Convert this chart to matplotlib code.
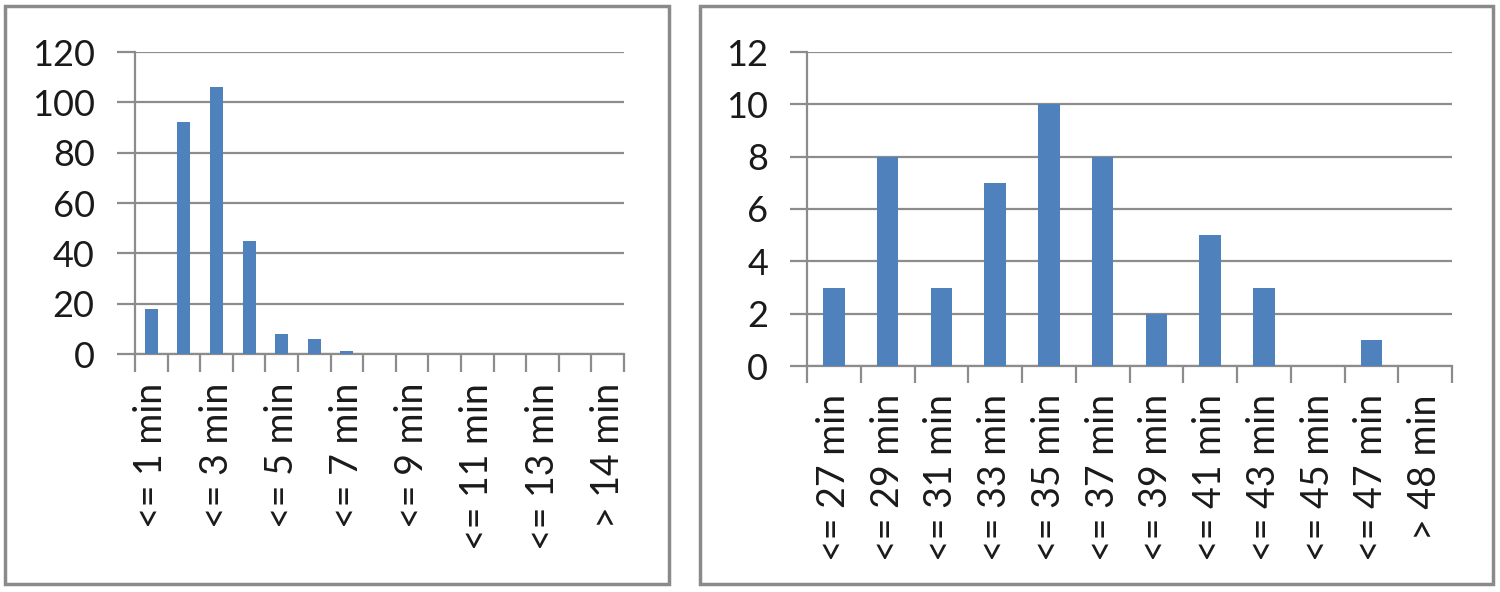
import matplotlib
matplotlib.use("Agg")
import matplotlib.pyplot as plt
from matplotlib.patches import Rectangle

# left chart: short waits
left_cats = ["<= 1 min", "<= 2 min", "<= 3 min", "<= 4 min", "<= 5 min",
             "<= 6 min", "<= 7 min", "<= 8 min", "<= 9 min", "<= 10 min",
             "<= 11 min", "<= 12 min", "<= 13 min", "<= 14 min", "> 14 min"]
left_vals = [18, 92, 106, 45, 8, 6, 1, 0, 0, 0, 0, 0, 0, 0, 0]
left_yticks = [0, 20, 40, 60, 80, 100, 120]

# right chart: long waits
right_cats = ["<= 27 min", "<= 29 min", "<= 31 min", "<= 33 min", "<= 35 min",
              "<= 37 min", "<= 39 min", "<= 41 min", "<= 43 min", "<= 45 min",
              "<= 47 min", "> 48 min"]
right_vals = [3, 8, 3, 7, 10, 8, 2, 5, 3, 0, 1, 0]
right_yticks = [0, 2, 4, 6, 8, 10, 12]

BAR = "#4F81BD"
GRID = "#8C8C8C"
plt.rcParams["font.family"] = ["Lato", "DejaVu Sans"]

W, H = 1500, 592
fig = plt.figure(figsize=(W / 100, H / 100), dpi=100)


def px_rect(x0, y0, x1, y1):
    # pixel box (top-left origin) -> figure fraction rect
    return [x0 / W, 1 - y1 / H, (x1 - x0) / W, (y1 - y0) / H]


# panel frames
for x0, x1 in [(5, 669), (700, 1493)]:
    fig.patches.append(Rectangle((x0 / W, 1 - 584 / H), (x1 - x0) / W, (584 - 6) / H,
                                 transform=fig.transFigure, fill=False,
                                 edgecolor="#8A8A8A", linewidth=2.5))


def draw(ax, cats, vals, yticks, label_step, tick_len):
    n = len(cats)
    xs = list(range(n))
    ax.bar(xs, vals, width=0.4, color=BAR, zorder=3)
    ax.set_xlim(-0.5, n - 0.5)
    ax.set_ylim(yticks[0], yticks[-1])
    ax.set_yticks(yticks)
    ax.yaxis.grid(True, color=GRID, linewidth=1.6, zorder=0)
    for s in ["top", "right"]:
        ax.spines[s].set_visible(False)
    for s in ["left", "bottom"]:
        ax.spines[s].set_color(GRID)
        ax.spines[s].set_linewidth(1.6)
    ax.tick_params(axis="y", length=tick_len, width=1.6, color=GRID,
                   labelsize=26, pad=16, labelcolor="#1a1a1a")
    # category boundary ticks
    ax.set_xticks([i - 0.5 for i in range(n + 1)])
    ax.set_xticklabels([])
    ax.tick_params(axis="x", length=tick_len, width=1.6, color=GRID)
    for i in range(0, n, label_step):
        ax.annotate(cats[i], xy=(i, 0), xycoords=("data", "axes fraction"),
                    xytext=(0, -tick_len - 16), textcoords="offset pixels",
                    rotation=90, ha="center", va="top", fontsize=27,
                    color="#1a1a1a")


ax1 = fig.add_axes(px_rect(135, 52, 624, 354))
draw(ax1, left_cats, left_vals, left_yticks, 2, 13)

ax2 = fig.add_axes(px_rect(807, 52, 1452, 366))
draw(ax2, right_cats, right_vals, right_yticks, 1, 12)

fig.savefig("out.png", dpi=100)
